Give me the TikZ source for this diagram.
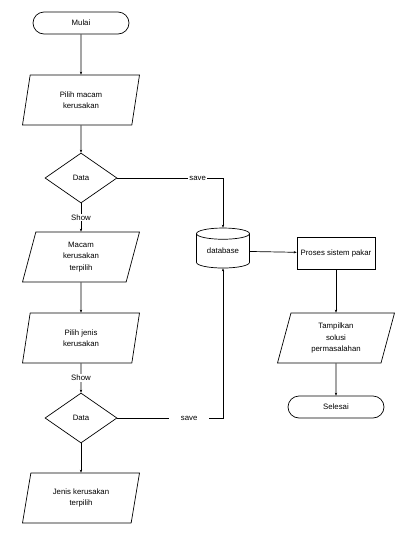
\documentclass[tikz,border=0pt]{standalone}
\usepackage{fontspec}
\setmainfont{Liberation Sans}
\usetikzlibrary{shapes.geometric,shapes.misc,arrows.meta}

\begin{document}
\begin{tikzpicture}[x=1pt,y=-1pt,
	font=\fontsize{7.8}{11.5}\selectfont,
	every node/.style={align=center},
	terminal/.style={draw,rounded rectangle,minimum width=96pt,minimum height=22pt,inner sep=0pt},
	inout/.style={draw,trapezium,trapezium left angle=66,trapezium right angle=114,trapezium stretches body,minimum width=117pt,minimum height=50pt,inner sep=0pt},
	decision/.style={draw,diamond,aspect=1.44,minimum width=72pt,minimum height=50pt,inner sep=0pt},
	process/.style={draw,rectangle,minimum width=78pt,minimum height=32pt,inner sep=1pt},
	store/.style={draw,cylinder,shape border rotate=90,aspect=0.35,minimum width=53pt,minimum height=40pt,inner sep=0pt},
	flow/.style={-{Stealth[length=3pt,width=2.4pt]},line width=0.7pt},
	lbl/.style={fill=white,inner sep=1pt},
	every path/.style={line width=0.7pt}]
	\useasboundingbox (0,0) rectangle (408,536);
	\node[terminal] at (81,23) (mulai) {Mulai};
	\node[inout] at (81,100) (macam) {Pilih macam\\kerusakan};
	\node[decision] at (81,178) (data1) {Data};
	\node[inout] at (81,257) (terpilih) {Macam\\kerusakan\\terpilih};
	\node[inout] at (81,338) (jenis) {Pilih jenis\\kerusakan};
	\node[decision] at (81,418) (data2) {Data};
	\node[inout] at (81,498) (hasil) {Jenis kerusakan\\terpilih};
	\node[store] at (223,251) (db) {database};
	\node[process] at (336,253) (pakar) {Proses sistem pakar};
	\node[inout] at (336,338) (solusi) {Tampilkan\\solusi\\permasalahan};
	\node[terminal] at (336,407) (selesai) {Selesai};
	\draw[flow] (mulai) -- (macam);
	\draw[flow] (macam) -- (data1);
	\draw[flow] (data1) -- node[lbl] {Show} (terpilih);
	\draw[flow] (terpilih) -- (jenis);
	\draw[flow] (jenis) -- node[lbl] {Show} (data2);
	\draw[flow] (data2) -- (hasil);
	\draw[flow] (data1.east) -| node[lbl,pos=0.38] {save} (db.north);
	\draw[flow] (data2.east) -| node[lbl,pos=0.34,minimum width=40pt] {save} (db.south);
	\draw[flow] (db) -- (pakar);
	\draw[flow] (pakar) -- (solusi);
	\draw[flow] (solusi) -- (selesai);
\end{tikzpicture}
\end{document}
